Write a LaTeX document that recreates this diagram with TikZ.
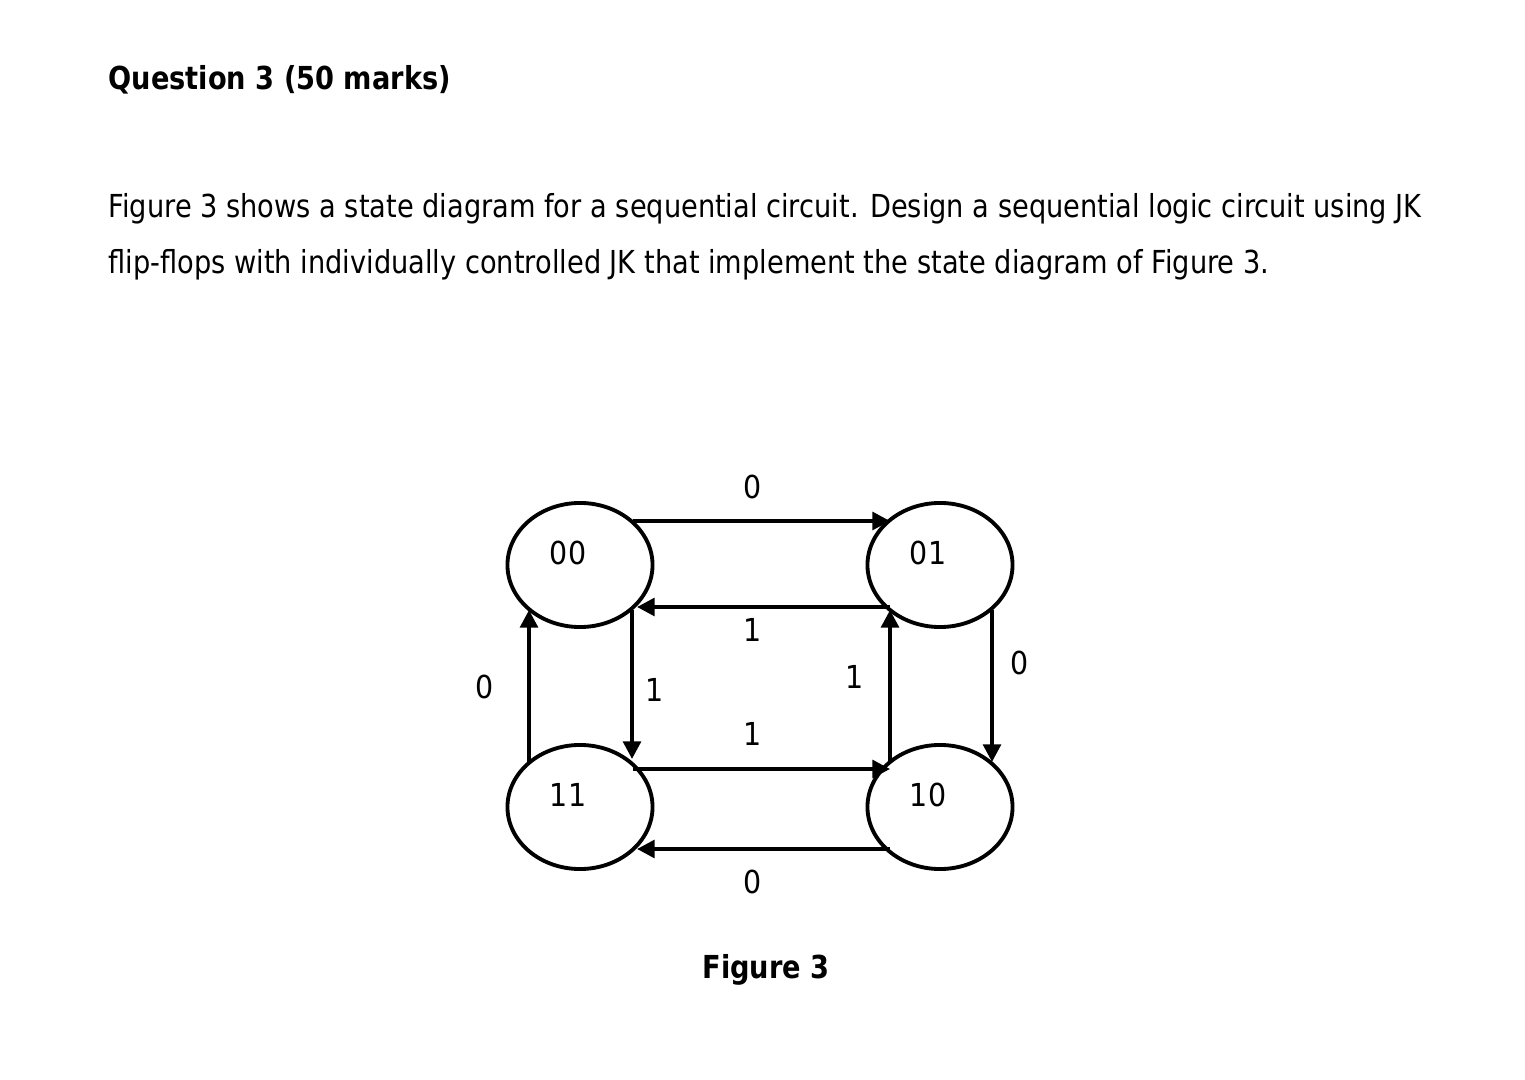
\documentclass[tikz,border=0pt]{standalone}
\usepackage{fontspec}
\setmainfont{DejaVu Sans}
\usetikzlibrary{arrows.meta,shapes.geometric}
\begin{document}
\begin{tikzpicture}[x=0.01cm,y=-0.01cm,
  st/.style={draw,line width=1.1pt,ellipse,minimum width=1.45cm,minimum height=1.24cm,inner sep=0},
  tr/.style={line width=1.1pt,-{Triangle[length=5pt,width=5pt]}},
  lab/.style={font=\fontsize{9pt}{11pt}\selectfont\addfontfeature{FakeStretch=0.9},inner sep=0},
  txt/.style={anchor=base west,inner sep=0,font=\fontsize{9pt}{11pt}\selectfont}]
\useasboundingbox (0,0) rectangle (1525,1080);
\node[txt,font=\fontsize{9pt}{11pt}\selectfont\bfseries\addfontfeature{FakeStretch=0.86}] (q) at (108,90) {Question 3 (50 marks)};
\node[txt] (p1) at (108,218) {\addfontfeature{FakeStretch=0.86}Figure 3 shows a state diagram for a sequential circuit. Design a sequential logic circuit using JK};
\node[txt] (p2) at (108,274) {\addfontfeature{FakeStretch=0.86}flip-flops with individually controlled JK that implement the state diagram of Figure 3.};
\node[st] (s00) at (580,565) {};
\node[st] (s01) at (940,565) {};
\node[st] (s11) at (580,807) {};
\node[st] (s10) at (940,807) {};
\node[lab] (t00) at (568,553) {00};
\node[lab] (t01) at (928,553) {01};
\node[lab] (t11) at (568,795) {11};
\node[lab] (t10) at (928,795) {10};
\coordinate (a1) at (633,521); \coordinate (a2) at (890,521);
\coordinate (b1) at (890,607); \coordinate (b2) at (637,607);
\coordinate (c1) at (529,762); \coordinate (c2) at (529,610);
\coordinate (d1) at (632,610); \coordinate (d2) at (632,759);
\coordinate (e1) at (890,762); \coordinate (e2) at (890,610);
\coordinate (f1) at (633,769); \coordinate (f2) at (890,769);
\coordinate (g1) at (890,849); \coordinate (g2) at (637,849);
\coordinate (h1) at (992,610); \coordinate (h2) at (992,762);
\draw[tr] (a1)--(a2); \draw[tr] (b1)--(b2); \draw[tr] (c1)--(c2); \draw[tr] (d1)--(d2);
\draw[tr] (e1)--(e2); \draw[tr] (f1)--(f2); \draw[tr] (g1)--(g2); \draw[tr] (h1)--(h2);
\node[lab] (l1) at (753,487) {0};
\node[lab] (l2) at (753,630) {1};
\node[lab] (l3) at (485,687) {0};
\node[lab] (l4) at (655,690) {1};
\node[lab] (l5) at (855,677) {1};
\node[lab] (l6) at (753,734) {1};
\node[lab] (l7) at (753,882) {0};
\node[lab] (l8) at (1020,663) {0};
\node[lab,font=\fontsize{9pt}{11pt}\selectfont\bfseries\addfontfeature{FakeStretch=0.86}] (fig) at (766,970) {Figure 3};
\end{tikzpicture}
\end{document}
